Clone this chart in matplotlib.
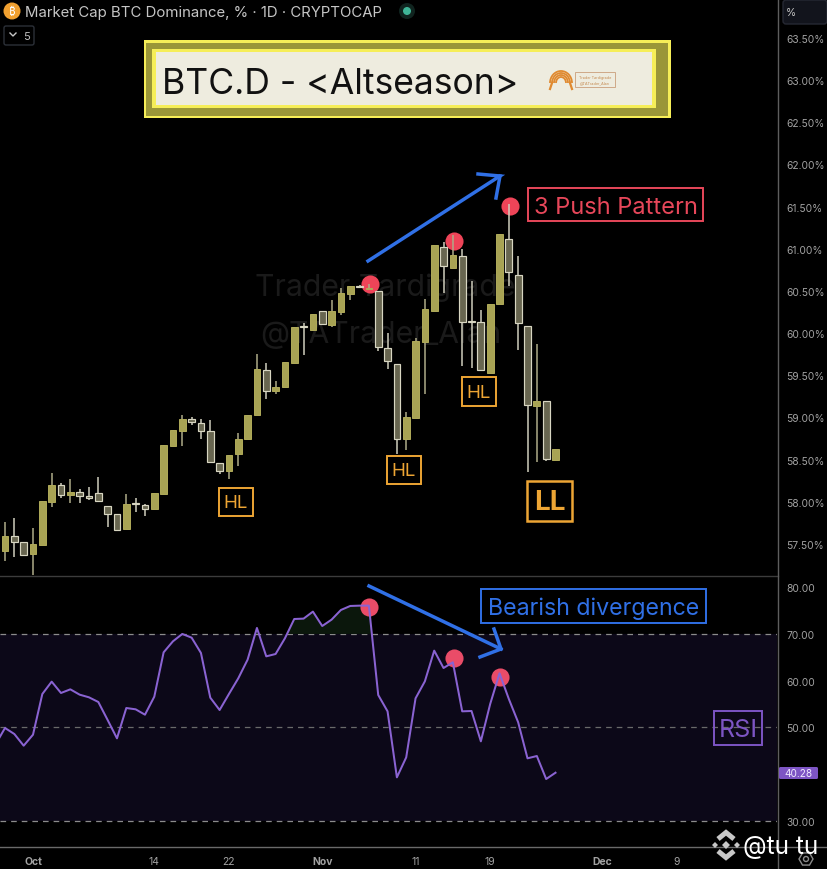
import numpy as np
import matplotlib
matplotlib.use("Agg")
import matplotlib.pyplot as plt
from matplotlib.patches import Rectangle, FancyBboxPatch, Circle, Polygon, Arc

plt.rcParams['font.family'] = ['Inter', 'DejaVu Sans']

W, H = 828, 870

# candles, day 0 = Oct 1
days = list(range(-3, 57))
opens = [57.42, 57.59, 57.52, 57.38, 57.49, 58.00, 58.20, 58.08, 58.12, 58.07,
         58.11, 57.95, 57.86, 57.68, 57.98, 57.96, 57.92, 58.09, 58.66, 58.84,
         58.98, 58.94, 58.84, 58.46, 58.37, 58.57, 58.74, 59.03, 59.56, 59.31,
         59.36, 59.65, 60.08, 60.04, 60.26, 60.10, 60.25, 60.46, 60.56, 60.52,
         60.50, 59.82, 59.63, 58.75, 58.99, 59.90, 60.26, 61.02, 60.77, 60.91,
         60.14, 60.13, 59.53, 60.34, 61.12, 60.69, 60.09, 59.14, 59.20, 58.50]
highs = [57.76, 57.81, 57.52, 57.69, 58.01, 58.34, 58.22, 58.27, 58.15, 58.18,
         58.29, 57.95, 57.86, 58.09, 58.05, 57.97, 58.10, 58.67, 58.85, 59.03,
         59.00, 58.98, 58.97, 58.46, 58.55, 58.82, 59.03, 59.75, 59.65, 59.43,
         59.66, 60.07, 60.12, 60.23, 60.26, 60.39, 60.54, 60.56, 60.57, 60.58,
         60.50, 60.00, 59.63, 59.06, 59.94, 60.41, 61.05, 61.08, 61.16, 61.00,
         60.62, 60.28, 60.35, 61.18, 61.53, 60.92, 60.09, 59.87, 59.20, 58.63]
lows = [57.30, 57.34, 57.37, 57.10, 57.49, 57.94, 58.04, 57.99, 57.99, 58.02,
        58.01, 57.70, 57.65, 57.68, 57.88, 57.83, 57.92, 58.09, 58.66, 58.66,
        58.91, 58.74, 58.47, 58.33, 58.27, 58.42, 58.74, 59.03, 59.22, 59.28,
        59.36, 59.65, 59.74, 60.02, 60.11, 60.07, 60.21, 60.39, 60.55, 60.51,
        59.79, 59.57, 58.57, 58.61, 58.99, 59.28, 60.26, 60.48, 60.77, 59.61,
        59.59, 59.56, 59.53, 60.34, 60.56, 59.80, 58.35, 58.47, 58.48, 58.50]
closes = [57.59, 57.52, 57.37, 57.50, 58.01, 58.20, 58.08, 58.12, 58.07, 58.05,
          58.01, 57.86, 57.67, 57.97, 57.97, 57.92, 58.10, 58.67, 58.85, 58.98,
          58.95, 58.84, 58.47, 58.36, 58.55, 58.74, 59.03, 59.57, 59.31, 59.36,
          59.66, 60.07, 60.07, 60.23, 60.11, 60.26, 60.47, 60.56, 60.55, 60.54,
          59.84, 59.67, 58.75, 59.00, 59.91, 60.29, 61.05, 60.80, 60.93, 60.13,
          60.13, 59.56, 60.35, 61.18, 60.72, 60.12, 59.15, 59.20, 58.51, 58.63]

# rsi starts one day earlier than the visible candles
rsi_days = list(range(-4, 57))
rsi = [46.4, 49.86, 48.57, 46.07, 48.43, 57.14, 59.79, 57.36, 58.14, 57.0, 56.43,
       55.43, 51.57, 47.64, 54.14, 53.86, 52.71, 56.57, 66.07, 68.43, 70.0,
       69.21, 65.93, 56.36, 53.71, 57.14, 60.5, 64.5, 71.29, 65.21, 65.71,
       69.07, 73.21, 73.29, 74.79, 71.71, 73.07, 75.14, 76.0, 76.07, 76.07,
       56.93, 53.43, 39.29, 43.57, 56.21, 59.86, 66.43, 62.71, 63.93, 53.43,
       53.5, 47.0, 55.0, 61.57, 56.07, 51.07, 43.36, 43.86, 38.93, 40.28]

push_days = [36.1, 45.1, 51.1]
push_prices = [60.58, 61.09, 61.51]
rsi_dot_days = [36.0, 45.1, 50.0]
rsi_dot_vals = [75.7, 64.9, 60.8]

price_ticks = [57.5, 58.0, 58.5, 59.0, 59.5, 60.0, 60.5, 61.0, 61.5, 62.0, 62.5, 63.0, 63.5]
rsi_ticks = [30, 50, 60, 70, 80]
date_ticks = [0, 13, 21, 31, 41, 49, 61, 69]
date_labels = ['Oct', '14', '22', 'Nov', '11', '19', 'Dec', '9']
last_rsi = '40.28'

BLUE = '#3070e6'
RED = '#e8475a'
ORANGE = '#eda534'
PURPLE = '#7d55c4'
TICK = '#a2a2a2'
OLIVE = '#a8a354'
HOLLOW = '#686650'
HOLLOW_EDGE = '#d8d6c2'


def pane(x0, y0, x1, y1):
    return fig.add_axes([x0 / W, 1 - y1 / H, (x1 - x0) / W, (y1 - y0) / H])


fig = plt.figure(figsize=(W / 100, H / 100), dpi=100, facecolor='black')

# price pane
ax = pane(0, 0, 777, 576)
ax.set_facecolor('black')
ax.set_xlim(-3.537, 79.74)
ax.set_ylim(57.132, 63.962)

days_a = np.array(days)
o, h, l, c = map(np.array, (opens, highs, lows, closes))
up = c >= o

ax.vlines(days_a[up], l[up], h[up], color='#aeab88', lw=1.1, zorder=3)
ax.vlines(days_a[~up], l[~up], h[~up], color='#cfcdbc', lw=1.1, zorder=3)
ax.bar(days_a[up], (c - o)[up], bottom=o[up], width=0.72, color=OLIVE,
       edgecolor='#b0ab5a', lw=0.7, zorder=4)
ax.bar(days_a[~up], (o - c)[~up], bottom=c[~up], width=0.72, color=HOLLOW,
       edgecolor=HOLLOW_EDGE, lw=0.85, zorder=4)
ax.scatter(push_days, push_prices, s=170, color='#ee4458', lw=0, zorder=2)

# watermark sits under the candles
for wm, wx, wy in (('Trader Tardigrade', 385, 288), ('@TATrader_Alan', 381, 335)):
    ax.text(wx / W, 1 - wy / H, wm, color='#1a1a1a', fontsize=21.7, ha='center', va='center',
            transform=fig.transFigure, zorder=1)

ax.yaxis.tick_right()
ax.set_yticks(price_ticks)
ax.set_yticklabels([f'{t:.2f}%' for t in price_ticks])
ax.tick_params(axis='y', length=0, pad=6.5, labelsize=7.4, labelcolor=TICK)
ax.set_xticks([])
for s in ax.spines.values():
    s.set_visible(False)

# rsi pane
ax2 = pane(0, 577, 777, 847)
ax2.set_facecolor('black')
ax2.set_xlim(-3.537, 79.74)
ax2.set_ylim(24.58, 82.42)
ax2.axhspan(30, 70, color='#0c0818', lw=0, zorder=0)
for lvl, col in ((70, '#8c8c8c'), (50, '#6a6a6a'), (30, '#8c8c8c')):
    ax2.axhline(lvl, color=col, lw=0.9, dashes=(4.5, 4), zorder=1)
rsi_a = np.array(rsi)
ax2.fill_between(rsi_days, 70, rsi_a, where=rsi_a > 70, interpolate=True,
                 color='#0b170c', lw=0, zorder=1)
ax2.scatter(rsi_dot_days, rsi_dot_vals, s=170, color='#ea4c68', lw=0, zorder=2)
ax2.plot(rsi_days, rsi, color='#8a63d2', lw=1.45, zorder=3)
ax2.yaxis.tick_right()
ax2.set_yticks(rsi_ticks)
ax2.set_yticklabels([f'{t:.2f}' for t in rsi_ticks])
ax2.tick_params(axis='y', length=0, pad=6.5, labelsize=7.4, labelcolor=TICK)
ax2.set_xticks(date_ticks)
ax2.set_xticklabels(date_labels)
ax2.tick_params(axis='x', length=0, pad=7, labelsize=7.5, labelcolor=TICK)
for lab, txt in zip(ax2.get_xticklabels(), date_labels):
    if txt in ('Oct', 'Nov', 'Dec'):
        lab.set_fontweight('bold')
for s in ax2.spines.values():
    s.set_visible(False)

# overlay in image pixels for drawn annotations
ov = fig.add_axes([0, 0, 1, 1], facecolor='none')
ov.set_xlim(0, W)
ov.set_ylim(H, 0)
ov.axis('off')

# pane separators
ov.plot([0, 778], [576.5, 576.5], color='#3c3c3c', lw=1)
ov.plot([0, W], [847.5, 847.5], color='#6a6a6a', lw=1)
ov.plot([778, 778], [0, H], color='#5e5e5e', lw=1)

# header
ov.add_patch(Circle((12, 12), 8.5, color='#f0a030', lw=0))
ov.text(12, 12.5, '₿', color='white', fontsize=8, fontweight='bold', ha='center', va='center',
        family=['Noto Sans', 'Roboto', 'Open Sans', 'Lato', 'Liberation Sans', 'DejaVu Sans'])
ov.text(25, 12.5, 'Market Cap BTC Dominance, % · 1D · CRYPTOCAP', color='#c6c6c6', fontsize=10.75, va='center')
ov.add_patch(Circle((407, 12), 8, color='#10241f', lw=0))
ov.add_patch(Circle((407, 12), 4, color='#3fb597', lw=0))
ov.add_patch(FancyBboxPatch((4, 27), 30, 19, boxstyle='round,pad=0,rounding_size=2', fc='black', ec='#2c3038', lw=1))
ov.plot([10, 13, 16], [34, 37, 34], color='#c8c8c8', lw=1)
ov.text(26.5, 36.5, '5', color='#c0c0c0', fontsize=8, ha='center', va='center')
ov.add_patch(FancyBboxPatch((783, 1), 44, 24, boxstyle='round,pad=0,rounding_size=3', fc='#12141c', ec='#262933', lw=1))
ov.text(786, 13, '%', color='#c4c4c4', fontsize=7.5, va='center')

# title banner
ov.add_patch(Rectangle((144, 41), 527, 78, fc='#f6ee58', lw=0))
ov.add_patch(Rectangle((146, 44), 522, 73, fc='#9a9638', lw=0))
ov.add_patch(Rectangle((152, 50), 504, 59, fc='#f6ee58', lw=0))
ov.add_patch(Rectangle((156, 53), 496, 53, fc='#eeecdf', lw=0))
ov.text(162, 84, 'BTC.D - <Altseason>', color='#111111', fontsize=25.6, va='center')
# small logo in the banner
for r in (10, 8, 6, 4):
    ov.add_patch(Arc((561, 84), 2 * r + 2, 2 * r + 4, theta1=180, theta2=360, color='#e08a30', lw=1.3))
ov.plot([552, 550], [84, 90], color='#e08a30', lw=1.6)
ov.plot([570, 572], [84, 90], color='#e08a30', lw=1.6)
ov.add_patch(Rectangle((575, 73), 40, 15, fc='none', ec='#cfa888', lw=0.7))
ov.text(595, 77.5, 'Trader Tardigrade', color='#c58a50', fontsize=2.7, ha='center', va='center')
ov.text(595, 83.5, '@TATrader_Alan', color='#c58a50', fontsize=2.7, ha='center', va='center')


def tag(x0, y0, x1, y1, txt, col, size, weight='normal', lw=1.4, dy=1):
    ov.add_patch(Rectangle((x0, y0), x1 - x0, y1 - y0, fc='none', ec=col, lw=lw, zorder=5))
    ov.text((x0 + x1) / 2, (y0 + y1) / 2 + dy, txt, color=col, fontsize=size, fontweight=weight,
            ha='center', va='center', zorder=5)


tag(219, 489, 253, 517, 'HL', ORANGE, 13.5)
tag(387, 457, 421, 485, 'HL', ORANGE, 13.5)
tag(462, 378, 496, 407, 'HL', ORANGE, 13.5)
tag(527, 482, 572, 522, 'LL', ORANGE, 20, 'bold', lw=1.8)
tag(528, 189, 703, 222, '3 Push Pattern', RED, 17, dy=2.5)
tag(481, 590, 706, 624, 'Bearish divergence', BLUE, 16.7, dy=2)
tag(714, 712, 762, 746, 'RSI', PURPLE, 18, dy=2)

# arrows
ov.plot([368, 500, 478], [262, 177, 175], color=BLUE, lw=2.5, solid_joinstyle='miter', zorder=5)
ov.plot([500, 496], [177, 199], color=BLUE, lw=2.5, zorder=5)
ov.plot([369, 501], [587, 650], color=BLUE, lw=2.5, zorder=5)
ov.plot([480, 501, 494], [658, 650, 630], color=BLUE, lw=2.5, solid_joinstyle='miter', zorder=5)

# last value tag
ov.add_patch(FancyBboxPatch((779, 768), 39, 12, boxstyle='round,pad=0,rounding_size=1.5', fc=PURPLE, lw=0, zorder=5))
ov.text(798.5, 774.3, last_rsi, color='#f0eaff', fontsize=7.2, ha='center', va='center', zorder=6)

# settings hexagon
ang = np.deg2rad(np.arange(0, 360, 60))
ov.add_patch(Polygon(np.c_[806 + 7 * np.cos(ang), 860 + 7 * np.sin(ang)], fc='none', ec='#8a8a8a', lw=1))
ov.add_patch(Circle((806, 860), 2.5, fc='none', ec='#8a8a8a', lw=1))

# exchange mark and handle
GREY = '#c8c8c8'


def diamond(cx, cy, r, **kw):
    ov.add_patch(Polygon([(cx, cy - r), (cx + r, cy), (cx, cy + r), (cx - r, cy)], lw=0, zorder=6, **kw))


diamond(726, 846, 4, color=GREY)
diamond(715, 846, 3, color=GREY)
diamond(737, 846, 3, color=GREY)
ov.plot([718, 726, 734], [840, 833.5, 840], color=GREY, lw=3.6, solid_capstyle='butt', solid_joinstyle='miter', zorder=6)
ov.plot([718, 726, 734], [852, 858.5, 852], color=GREY, lw=3.6, solid_capstyle='butt', solid_joinstyle='miter', zorder=6)
ov.text(743, 848, '@tu tu', color='white', fontsize=17.5, va='center', zorder=6)

fig.savefig('out.png', dpi=100, facecolor='black')
